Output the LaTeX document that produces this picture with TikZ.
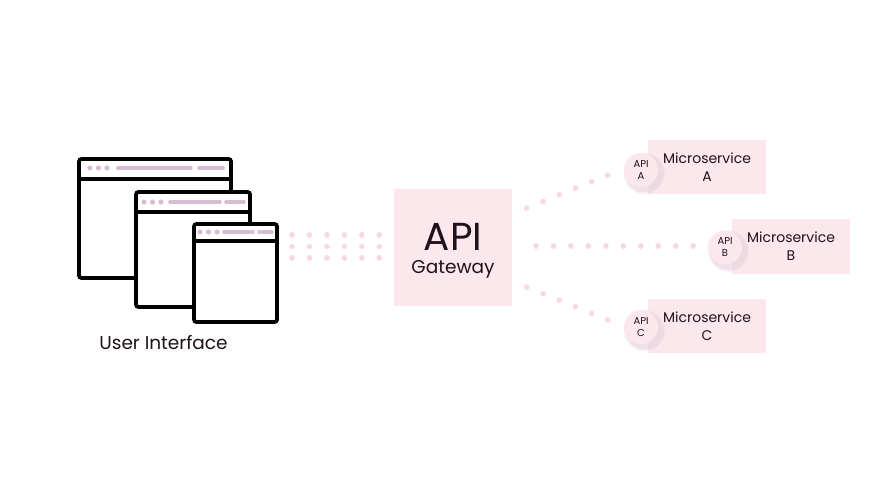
\documentclass[tikz,border=0pt]{standalone}
\usepackage{fontspec}
\setmainfont{Poppins}
\usetikzlibrary{shadows,calc}
\definecolor{boxpink}{HTML}{FCE8EC}
\definecolor{dotpink}{HTML}{F8D9E1}
\definecolor{barmauve}{HTML}{D6BDD1}
\definecolor{inktext}{HTML}{1F121D}
\tikzset{
  window/.style={draw=black,line width=3.8pt,fill=white,rounded corners=2.5pt,inner sep=0pt,outer sep=0pt},
  divider/.style={draw=black,line width=3.4pt},
  bar/.style={draw=barmauve,line width=3.6pt,line cap=round},
  bardot/.style={fill=barmauve},
  box/.style={fill=boxpink,inner sep=0pt,outer sep=0pt,text=inktext,align=center},
  service/.style={box,minimum width=118pt,minimum height=54.5pt,font=\fontsize{14}{18}\selectfont},
  apicircle/.style={circle,fill=boxpink,minimum size=34pt,inner sep=0pt,outer sep=0pt,text=inktext,align=center,
    font=\fontsize{10}{12}\selectfont,
    circular drop shadow={shadow xshift=2.5pt,shadow yshift=-2.5pt,shadow scale=1.25,opacity=.6,fill=barmauve!60!boxpink}},
  dots/.style={draw=dotpink,line width=5.6pt,line cap=round,dash pattern=on 0.01pt off 17.45pt}
}
\begin{document}
\begin{tikzpicture}[x=1pt,y=-1pt]
\useasboundingbox (0,0) rectangle (890,478);
\fill[white] (0,0) rectangle (890,478);

% windows, back to front
\node[window,minimum width=152pt,minimum height=119pt] (win1) at (155,218.5) {};
\draw[divider] (79,179) -- (231,179);
\foreach \x in {90,98.5,107} \fill[bardot] (\x,168) circle (2.6pt);
\draw[bar] (118,168) -- (191,168);
\draw[bar] (199,168) -- (223,168);

\node[window,minimum width=114pt,minimum height=115pt] (win2) at (193,249.5) {};
\draw[divider] (136,212) -- (250,212);
\foreach \x in {144,152.5,161} \fill[bardot] (\x,202) circle (2.6pt);
\draw[bar] (170,202) -- (220,202);
\draw[bar] (226,202) -- (244,202);

\node[window,minimum width=83pt,minimum height=98pt] (win3) at (235.5,273) {};
\draw[divider] (194,241) -- (277,241);
\foreach \x in {200,208.5,217} \fill[bardot] (\x,232) circle (2.6pt);
\draw[bar] (224,232) -- (253,232);
\draw[bar] (259,232) -- (272,232);

\node[text=inktext,font=\fontsize{18.5}{22}\selectfont] (uilabel) at (163.5,343) {User Interface};

% gateway and services
\node[box,minimum width=118pt,minimum height=117pt] (gw) at (453,247.5)
  {\rule{0pt}{33pt}\fontsize{39}{22}\selectfont API\\[9pt]\fontsize{18.5}{22}\selectfont Gateway};

\node[service] (msA) at (707,167) {Microservice\\A};
\node[service] (msB) at (791,246.5) {Microservice\\B};
\node[service] (msC) at (707,326) {Microservice\\C};

\node[apicircle] (apiA) at (641,170) {API\\A};
\node[apicircle] (apiB) at (725,247.5) {API\\B};
\node[apicircle] (apiC) at (641,327) {API\\C};

% dotted links
\coordinate (uiT) at (279,235);
\coordinate (uiM) at (279,246.5);
\coordinate (uiB) at (279,258);
\coordinate (gwT) at (394,235);
\coordinate (gwM) at (394,246.5);
\coordinate (gwB) at (394,258);
\draw[dots,shorten <=13pt,shorten >=14pt] (uiT) -- (gwT);
\draw[dots,shorten <=13pt,shorten >=14pt] (uiM) -- (gwM);
\draw[dots,shorten <=13pt,shorten >=14pt] (uiB) -- (gwB);

\coordinate (gwA) at (512,214);
\coordinate (gwE) at (512,246);
\coordinate (gwC) at (512,281);
\coordinate (inA) at (624,168.5);
\coordinate (inB) at (708,246);
\coordinate (inC) at (624,326.5);
\draw[dots,shorten <=16pt,shorten >=17pt] (gwA) -- (inA);
\draw[dots,shorten <=24pt,shorten >=14pt] (gwE) -- (inB);
\draw[dots,shorten <=16pt,shorten >=17pt] (gwC) -- (inC);
\end{tikzpicture}
\end{document}
